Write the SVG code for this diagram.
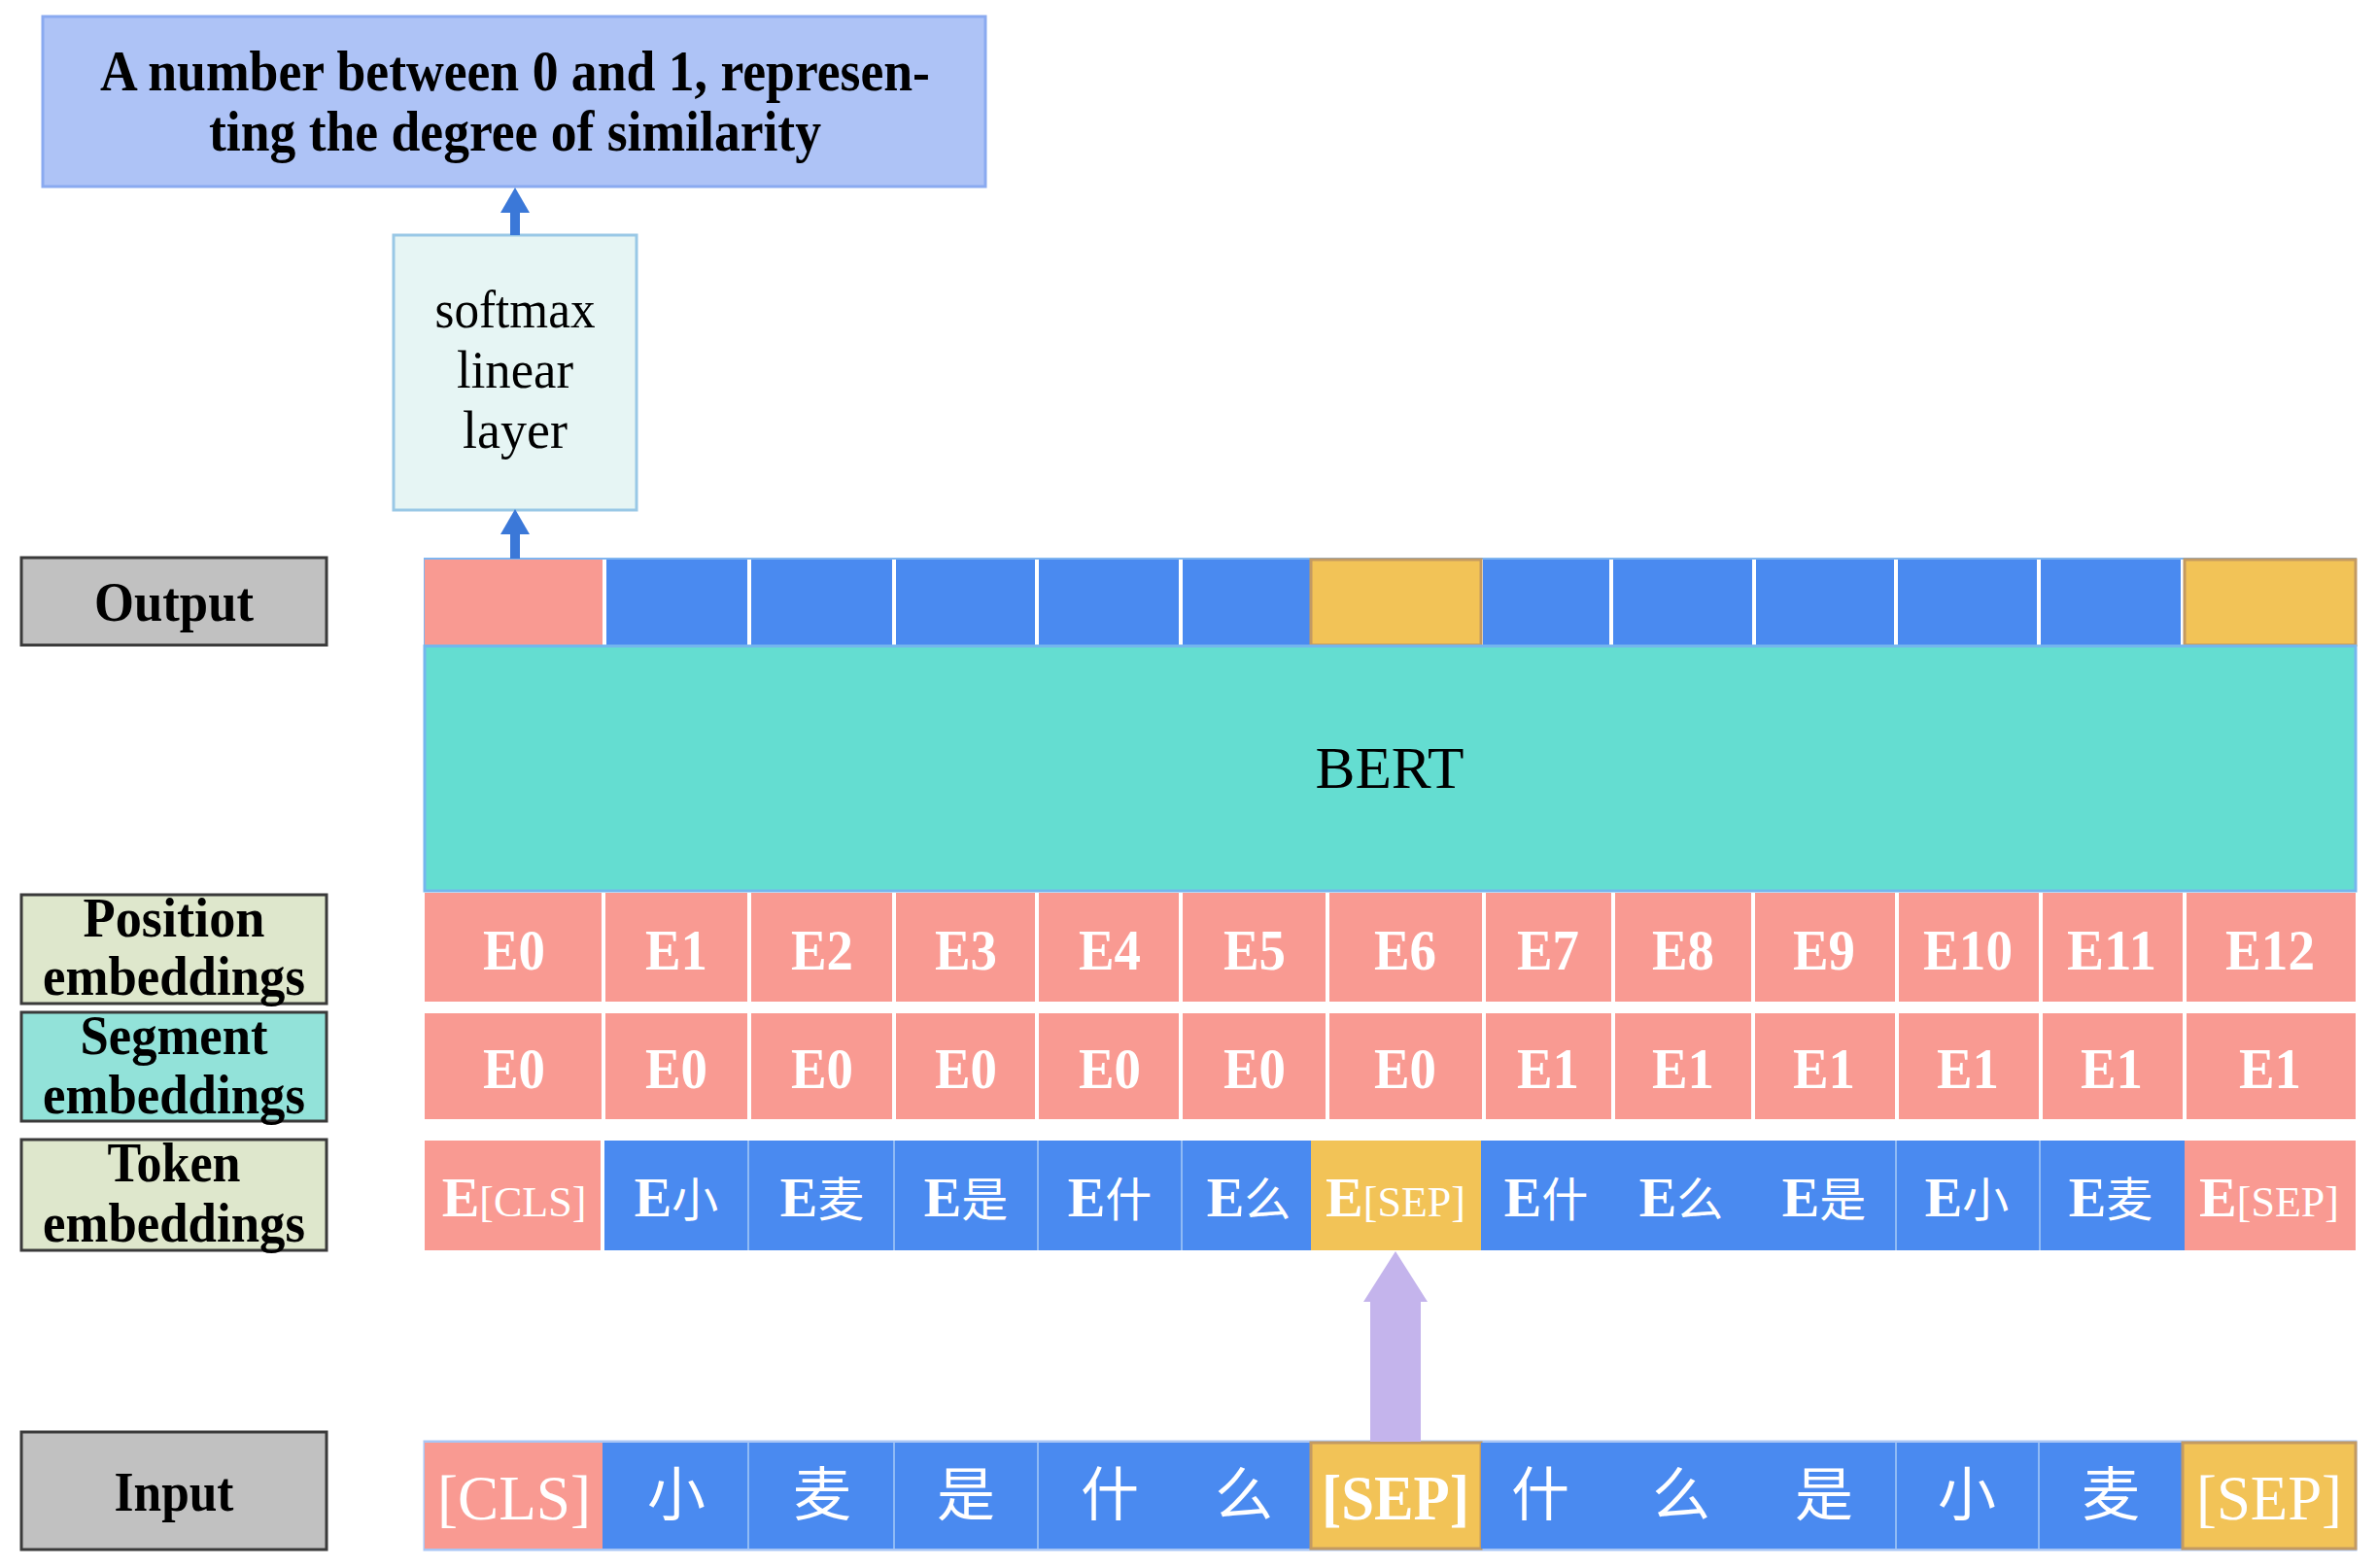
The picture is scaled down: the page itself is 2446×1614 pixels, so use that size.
<svg xmlns="http://www.w3.org/2000/svg" width="2446" height="1614" viewBox="0 0 2446 1614">
<style>
.serif{font-family:"Liberation Serif","Times New Roman",serif}
.lbl{font-family:"Liberation Serif",serif;font-weight:bold;font-size:58px;fill:#000;text-anchor:middle}
.gray{fill:#c1c1c1;stroke:#3a3a3a;stroke-width:3}
.pale{fill:#dee7cc;stroke:#3a3a3a;stroke-width:3}
.seg{fill:#92e2d9;stroke:#3a3a3a;stroke-width:3}
.pink{fill:#f99a92}
.blue{fill:#4a8af0}
.yel{fill:#f2c357}
.ylb{fill:#f2c357;stroke:#c39a62;stroke-width:3}
.div{stroke:#8fbaf5;stroke-width:2}
.ct{font-family:"Liberation Serif",serif;font-weight:bold;font-size:60px;fill:#fff;text-anchor:middle}
.tk{font-family:"Liberation Serif",serif;font-weight:bold;font-size:58px;fill:#fff;text-anchor:middle}
.cj{font-family:"Noto Sans CJK SC",sans-serif;font-weight:normal}
.sm{font-weight:normal;font-size:44px}
.in{font-family:"Noto Sans CJK SC",sans-serif;font-size:60px;fill:#fff;text-anchor:middle}
.ins{font-family:"Liberation Serif",serif;font-size:66px;fill:#fff;text-anchor:middle}
</style>
<defs>
<marker id="ah" markerUnits="userSpaceOnUse" markerWidth="26" markerHeight="30" refX="0" refY="15" orient="auto">
<path d="M0,0 L26,15 L0,30 z" fill="#3b78d8"/>
</marker>
</defs>
<rect width="2446" height="1614" fill="#fff"/>

<g id="result">
<rect x="44" y="17" width="970" height="175" fill="#aec3f6" stroke="#8aaaf0" stroke-width="3"/>
<text class="serif" x="530" y="93" font-size="60" font-weight="bold" text-anchor="middle" textLength="854" lengthAdjust="spacingAndGlyphs">A number between 0 and 1, represen-</text>
<text class="serif" x="530" y="155" font-size="60" font-weight="bold" text-anchor="middle" textLength="630" lengthAdjust="spacingAndGlyphs">ting the degree of similarity</text>
</g>

<g id="softmax">
<rect x="405" y="242" width="250" height="283" fill="#e6f5f4" stroke="#99c8e6" stroke-width="3"/>
<text class="serif" x="530" y="337" font-size="55" text-anchor="middle" textLength="165" lengthAdjust="spacingAndGlyphs">softmax</text>
<text class="serif" x="530" y="399" font-size="55" text-anchor="middle" textLength="120" lengthAdjust="spacingAndGlyphs">linear</text>
<text class="serif" x="530" y="461" font-size="55" text-anchor="middle" textLength="108" lengthAdjust="spacingAndGlyphs">layer</text>
</g>

<g id="label-output"><rect class="gray" x="22" y="574" width="314" height="90"/><text class="lbl" x="179" y="639" textLength="164" lengthAdjust="spacingAndGlyphs">Output</text></g>
<g id="label-position"><rect class="pale" x="22" y="921" width="314" height="112"/><text class="lbl" x="179" y="964" textLength="187" lengthAdjust="spacingAndGlyphs">Position</text><text class="lbl" x="179" y="1024" textLength="270" lengthAdjust="spacingAndGlyphs">embeddings</text></g>
<g id="label-segment"><rect class="seg" x="22" y="1042" width="314" height="112"/><text class="lbl" x="179" y="1085" textLength="193" lengthAdjust="spacingAndGlyphs">Segment</text><text class="lbl" x="179" y="1146" textLength="270" lengthAdjust="spacingAndGlyphs">embeddings</text></g>
<g id="label-token"><rect class="pale" x="22" y="1173" width="314" height="114"/><text class="lbl" x="179" y="1216" textLength="137" lengthAdjust="spacingAndGlyphs">Token</text><text class="lbl" x="179" y="1278" textLength="270" lengthAdjust="spacingAndGlyphs">embeddings</text></g>
<g id="label-input"><rect class="gray" x="22" y="1474" width="314" height="121"/><text class="lbl" x="179" y="1555" textLength="123" lengthAdjust="spacingAndGlyphs">Input</text></g>

<g id="output-row">
<rect x="437" y="575" width="1987" height="90" fill="#fff" stroke="#7fb5f0" stroke-width="2"/>
<rect class="pink" x="437" y="576" width="183" height="88"/>
<rect class="blue" x="624" y="576" width="145" height="88"/>
<rect class="blue" x="773" y="576" width="145" height="88"/>
<rect class="blue" x="922" y="576" width="143" height="88"/>
<rect class="blue" x="1069" y="576" width="144" height="88"/>
<rect class="blue" x="1217" y="576" width="131" height="88"/>
<rect class="ylb" x="1349" y="576" width="175" height="88"/>
<rect class="blue" x="1526" y="576" width="130" height="88"/>
<rect class="blue" x="1660" y="576" width="143" height="88"/>
<rect class="blue" x="1807" y="576" width="142" height="88"/>
<rect class="blue" x="1953" y="576" width="143" height="88"/>
<rect class="blue" x="2100" y="576" width="144" height="88"/>
<rect class="ylb" x="2248" y="576" width="176" height="88"/>
</g>

<g id="bert">
<rect x="437" y="665" width="1987" height="252" fill="#64ddd1" stroke="#74b6ee" stroke-width="3"/>
<text class="serif" x="1430" y="811" font-size="62" text-anchor="middle" textLength="153" lengthAdjust="spacingAndGlyphs">BERT</text>
</g>

<g id="position-row">
<rect class="pink" x="437" y="919" width="182" height="112"/>
<rect class="pink" x="623" y="919" width="146" height="112"/>
<rect class="pink" x="773" y="919" width="145" height="112"/>
<rect class="pink" x="922" y="919" width="143" height="112"/>
<rect class="pink" x="1069" y="919" width="144" height="112"/>
<rect class="pink" x="1217" y="919" width="147" height="112"/>
<rect class="pink" x="1368" y="919" width="157" height="112"/>
<rect class="pink" x="1529" y="919" width="129" height="112"/>
<rect class="pink" x="1662" y="919" width="140" height="112"/>
<rect class="pink" x="1806" y="919" width="144" height="112"/>
<rect class="pink" x="1954" y="919" width="144" height="112"/>
<rect class="pink" x="2102" y="919" width="144" height="112"/>
<rect class="pink" x="2250" y="919" width="174" height="112"/>
<text class="ct" x="529" y="998" textLength="64" lengthAdjust="spacingAndGlyphs">E0</text>
<text class="ct" x="696" y="998" textLength="64" lengthAdjust="spacingAndGlyphs">E1</text>
<text class="ct" x="846" y="998" textLength="64" lengthAdjust="spacingAndGlyphs">E2</text>
<text class="ct" x="994" y="998" textLength="64" lengthAdjust="spacingAndGlyphs">E3</text>
<text class="ct" x="1142" y="998" textLength="64" lengthAdjust="spacingAndGlyphs">E4</text>
<text class="ct" x="1291" y="998" textLength="64" lengthAdjust="spacingAndGlyphs">E5</text>
<text class="ct" x="1446" y="998" textLength="64" lengthAdjust="spacingAndGlyphs">E6</text>
<text class="ct" x="1593" y="998" textLength="64" lengthAdjust="spacingAndGlyphs">E7</text>
<text class="ct" x="1732" y="998" textLength="64" lengthAdjust="spacingAndGlyphs">E8</text>
<text class="ct" x="1877" y="998" textLength="64" lengthAdjust="spacingAndGlyphs">E9</text>
<text class="ct" x="2025" y="998" textLength="92" lengthAdjust="spacingAndGlyphs">E10</text>
<text class="ct" x="2173" y="998" textLength="92" lengthAdjust="spacingAndGlyphs">E11</text>
<text class="ct" x="2336" y="998" textLength="92" lengthAdjust="spacingAndGlyphs">E12</text>
</g>

<g id="segment-row">
<rect class="pink" x="437" y="1043" width="182" height="109"/>
<rect class="pink" x="623" y="1043" width="146" height="109"/>
<rect class="pink" x="773" y="1043" width="145" height="109"/>
<rect class="pink" x="922" y="1043" width="143" height="109"/>
<rect class="pink" x="1069" y="1043" width="144" height="109"/>
<rect class="pink" x="1217" y="1043" width="147" height="109"/>
<rect class="pink" x="1368" y="1043" width="157" height="109"/>
<rect class="pink" x="1529" y="1043" width="129" height="109"/>
<rect class="pink" x="1662" y="1043" width="140" height="109"/>
<rect class="pink" x="1806" y="1043" width="144" height="109"/>
<rect class="pink" x="1954" y="1043" width="144" height="109"/>
<rect class="pink" x="2102" y="1043" width="144" height="109"/>
<rect class="pink" x="2250" y="1043" width="174" height="109"/>
<text class="ct" x="529" y="1120" textLength="64" lengthAdjust="spacingAndGlyphs">E0</text>
<text class="ct" x="696" y="1120" textLength="64" lengthAdjust="spacingAndGlyphs">E0</text>
<text class="ct" x="846" y="1120" textLength="64" lengthAdjust="spacingAndGlyphs">E0</text>
<text class="ct" x="994" y="1120" textLength="64" lengthAdjust="spacingAndGlyphs">E0</text>
<text class="ct" x="1142" y="1120" textLength="64" lengthAdjust="spacingAndGlyphs">E0</text>
<text class="ct" x="1291" y="1120" textLength="64" lengthAdjust="spacingAndGlyphs">E0</text>
<text class="ct" x="1446" y="1120" textLength="64" lengthAdjust="spacingAndGlyphs">E0</text>
<text class="ct" x="1593" y="1120" textLength="64" lengthAdjust="spacingAndGlyphs">E1</text>
<text class="ct" x="1732" y="1120" textLength="64" lengthAdjust="spacingAndGlyphs">E1</text>
<text class="ct" x="1877" y="1120" textLength="64" lengthAdjust="spacingAndGlyphs">E1</text>
<text class="ct" x="2025" y="1120" textLength="64" lengthAdjust="spacingAndGlyphs">E1</text>
<text class="ct" x="2173" y="1120" textLength="64" lengthAdjust="spacingAndGlyphs">E1</text>
<text class="ct" x="2336" y="1120" textLength="64" lengthAdjust="spacingAndGlyphs">E1</text>
</g>

<g id="token-row">
<rect class="pink" x="437" y="1174" width="181" height="113"/>
<rect class="blue" x="622" y="1174" width="727" height="113"/>
<rect class="yel" x="1349" y="1174" width="175" height="113"/>
<rect class="blue" x="1524" y="1174" width="724" height="113"/>
<rect class="pink" x="2248" y="1174" width="176" height="113"/>
<line class="div" x1="770" y1="1174" x2="770" y2="1287"/>
<line class="div" x1="920" y1="1174" x2="920" y2="1287"/>
<line class="div" x1="1068" y1="1174" x2="1068" y2="1287"/>
<line class="div" x1="1216" y1="1174" x2="1216" y2="1287"/>
<line class="div" x1="1951" y1="1174" x2="1951" y2="1287"/>
<line class="div" x1="2099" y1="1174" x2="2099" y2="1287"/>
<text class="tk" x="529" y="1252" font-weight="normal">E<tspan class="sm">[CLS]</tspan></text>
<text class="tk" x="696" y="1252">E<tspan class="cj" font-size="48">小</tspan></text>
<text class="tk" x="846" y="1252">E<tspan class="cj" font-size="48">麦</tspan></text>
<text class="tk" x="994" y="1252">E<tspan class="cj" font-size="48">是</tspan></text>
<text class="tk" x="1142" y="1252">E<tspan class="cj" font-size="48">什</tspan></text>
<text class="tk" x="1285" y="1252">E<tspan class="cj" font-size="48">么</tspan></text>
<text class="tk" x="1436" y="1252" font-weight="normal">E<tspan class="sm">[SEP]</tspan></text>
<text class="tk" x="1591" y="1252">E<tspan class="cj" font-size="48">什</tspan></text>
<text class="tk" x="1730" y="1252">E<tspan class="cj" font-size="48">么</tspan></text>
<text class="tk" x="1877" y="1252">E<tspan class="cj" font-size="48">是</tspan></text>
<text class="tk" x="2024" y="1252">E<tspan class="cj" font-size="48">小</tspan></text>
<text class="tk" x="2172" y="1252">E<tspan class="cj" font-size="48">麦</tspan></text>
<text class="tk" x="2335" y="1252" font-weight="normal">E<tspan class="sm">[SEP]</tspan></text>
</g>

<g id="input-row">
<rect x="437" y="1484" width="1987" height="111" fill="none" stroke="#a9c6f5" stroke-width="3"/>
<rect class="pink" x="437" y="1485" width="183" height="109"/>
<rect class="blue" x="620" y="1485" width="729" height="109"/>
<rect class="ylb" x="1349" y="1485" width="175" height="109"/>
<rect class="blue" x="1524" y="1485" width="722" height="109"/>
<rect class="ylb" x="2246" y="1485" width="178" height="109"/>
<line class="div" x1="770" y1="1485" x2="770" y2="1594"/>
<line class="div" x1="920" y1="1485" x2="920" y2="1594"/>
<line class="div" x1="1068" y1="1485" x2="1068" y2="1594"/>
<line class="div" x1="1951" y1="1485" x2="1951" y2="1594"/>
<line class="div" x1="2098" y1="1485" x2="2098" y2="1594"/>
<text class="ins" x="529" y="1564" textLength="158" lengthAdjust="spacingAndGlyphs">[CLS]</text>
<text class="in" x="696" y="1560">小</text>
<text class="in" x="846" y="1560">麦</text>
<text class="in" x="994" y="1560">是</text>
<text class="in" x="1142" y="1560">什</text>
<text class="in" x="1280" y="1560">么</text>
<text class="ins" x="1436" y="1564" font-weight="bold" textLength="152" lengthAdjust="spacingAndGlyphs">[SEP]</text>
<text class="in" x="1585" y="1560">什</text>
<text class="in" x="1730" y="1560">么</text>
<text class="in" x="1877" y="1560">是</text>
<text class="in" x="2024" y="1560">小</text>
<text class="in" x="2172" y="1560">麦</text>
<text class="ins" x="2335" y="1564" textLength="150" lengthAdjust="spacingAndGlyphs">[SEP]</text>
</g>

<g id="connectors">
<line x1="530" y1="242" x2="530" y2="219" stroke="#3b78d8" stroke-width="10" marker-end="url(#ah)"/>
<line x1="530" y1="575" x2="530" y2="550" stroke="#3b78d8" stroke-width="10" marker-end="url(#ah)"/>
<polygon points="1410,1484 1410,1340 1403,1340 1436,1288 1469,1340 1462,1340 1462,1484" fill="#c4b4ec"/>
</g>
</svg>
